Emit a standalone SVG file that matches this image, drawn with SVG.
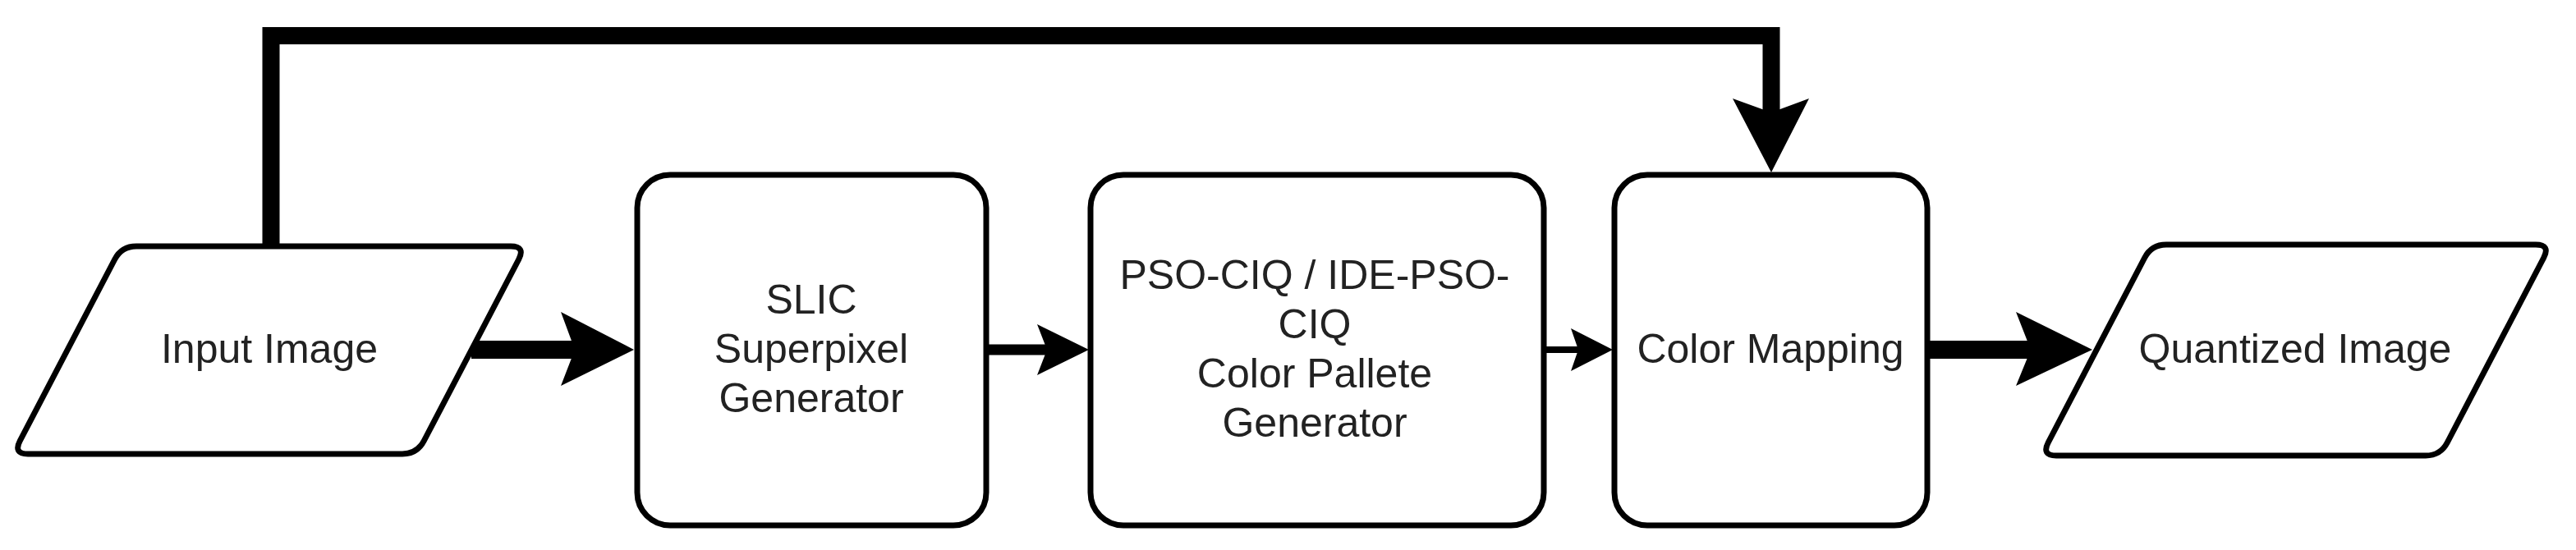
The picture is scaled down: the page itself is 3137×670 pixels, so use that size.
<svg xmlns="http://www.w3.org/2000/svg" width="3137" height="670" viewBox="0 0 3137 670">
<style>
.shape{fill:#fff;stroke:#000;stroke-width:7}
.lbl{font-family:"Liberation Sans",Arial,sans-serif;font-size:50px;fill:#222;text-anchor:middle}
.ln{fill:none;stroke:#000;stroke-linejoin:miter}
.hd{fill:#000;stroke:none}
</style>
<rect width="3137" height="670" fill="#fff"/>
<g id="connectors">
<path class="ln" d="M330,300 V43.5 H2157 V142" stroke-width="21"/>
<polygon class="hd" points="2157,210 2110,120 2157,137 2203,120"/>
<path class="ln" d="M574,426 H705" stroke-width="22"/>
<polygon class="hd" points="772,426 683,380 700,426 683,470"/>
<path class="ln" d="M1201,426 H1280" stroke-width="13"/>
<polygon class="hd" points="1326,426 1263,395 1275,426 1263,457"/>
<path class="ln" d="M1880,426 H1925" stroke-width="8"/>
<polygon class="hd" points="1964,426 1913,400 1922,426 1913,452"/>
<path class="ln" d="M2347,426 H2478" stroke-width="22"/>
<polygon class="hd" points="2548,426 2455,380 2473,426 2455,470"/>
</g>
<g id="input-image">
<path class="shape" d="M166,300 H622 Q640,300 631.7,316 L516.3,537 Q508,553 490,553 H34 Q16,553 24.3,537 L139.7,316 Q148,300 166,300 Z"/>
<text class="lbl" x="328" y="442">Input Image</text>
</g>
<g id="slic">
<rect class="shape" x="776" y="213" width="425" height="427" rx="40"/>
<text class="lbl" x="988" y="382">SLIC</text>
<text class="lbl" x="988" y="442">Superpixel</text>
<text class="lbl" x="988" y="502">Generator</text>
</g>
<g id="pso">
<rect class="shape" x="1328" y="213" width="552" height="427" rx="40"/>
<text class="lbl" x="1601" y="352">PSO-CIQ / IDE-PSO-</text>
<text class="lbl" x="1601" y="412">CIQ</text>
<text class="lbl" x="1601" y="472">Color Pallete</text>
<text class="lbl" x="1601" y="532">Generator</text>
</g>
<g id="color-mapping">
<rect class="shape" x="1966" y="213" width="381" height="427" rx="40"/>
<text class="lbl" x="2156" y="442">Color Mapping</text>
</g>
<g id="quantized-image">
<path class="shape" d="M2638,298 H3088 Q3106,298 3097.7,314 L2980.3,539 Q2972,555 2954,555 H2504 Q2486,555 2494.3,539 L2611.7,314 Q2620,298 2638,298 Z"/>
<text class="lbl" x="2795" y="442">Quantized Image</text>
</g>
</svg>
